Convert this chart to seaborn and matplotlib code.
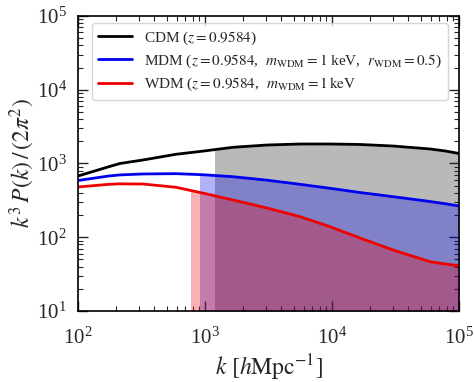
import matplotlib
matplotlib.use("Agg")
import matplotlib.pyplot as plt
from matplotlib.patches import Rectangle
import seaborn as sns
import numpy as np
import pandas as pd

# k in h/Mpc, values of k^3 P(k) / (2 pi^2)
k = [100, 175, 214, 325, 590, 980, 1660, 3080, 5600, 9640, 16600, 30200, 59200, 77600, 100000]
cdm = [677, 905, 1000, 1116, 1333, 1477, 1659, 1781, 1838, 1838, 1811, 1726, 1573, 1480, 1367]
mdm = [588, 677, 700, 721, 728, 703, 662, 594, 522, 461, 404, 355, 305, 285, 265]
wdm = [480, 522, 530, 527, 476, 394, 320, 249, 190, 139, 97.7, 67.2, 46.6, 43.4, 41.1]

# lower k limit of each shaded region
k_cut_cdm = 1190
k_cut_mdm = 920
k_cut_wdm = 770

labels = [
    r"CDM ($z=0.9584$)",
    r"MDM ($z=0.9584$,  $m_{\rm WDM}=1$ keV,  $r_{\rm WDM}=0.5$)",
    r"WDM ($z=0.9584$,  $m_{\rm WDM}=1\,{\rm keV}$",
]
colors = ["black", "#0000ee", "#ee0000"]

sns.set_theme(style="ticks")
plt.rcParams["font.family"] = ["Liberation Serif", "DejaVu Serif"]
plt.rcParams["mathtext.fontset"] = "stix"

fig, ax = plt.subplots(figsize=(4.74, 3.82), dpi=100)
fig.subplots_adjust(left=0.1646, right=0.9684, bottom=0.1859, top=0.9581)

ax.set_xscale("log")
ax.set_yscale("log")
ax.set_xlim(1e2, 1e5)
ax.set_ylim(1e1, 1e5)

# shaded areas under each curve, clipped to k >= k_cut
series = [(cdm, k_cut_cdm), (mdm, k_cut_mdm), (wdm, k_cut_wdm)]
for (vals, kcut), col in zip(series, colors):
    fill_col = "k" if col == "black" else col
    poly = ax.fill_between(k, 1e1, vals, color=fill_col, alpha=0.3, linewidth=0)
    clip = Rectangle((kcut, 1e1), 1e5 - kcut, 1e5 - 1e1, transform=ax.transData)
    poly.set_clip_path(clip)

df = pd.DataFrame({"k": k, "cdm": cdm, "mdm": mdm, "wdm": wdm})
for col_name, lab, col in zip(["cdm", "mdm", "wdm"], labels, colors):
    sns.lineplot(data=df, x="k", y=col_name, ax=ax, color=col, linewidth=2.0, label=lab)

ax.set_xlabel(r"$k\ [h{\rm Mpc}^{-1}]$", fontsize=17, labelpad=3)
ax.set_ylabel(r"$k^3\,P(k)\,/\,(2\pi^2)$", fontsize=17, labelpad=0)

ax.tick_params(which="both", direction="in", top=True, right=True, labelsize=15)
ax.tick_params(axis="x", pad=12)
ax.tick_params(axis="y", pad=8)
ax.tick_params(which="major", length=7, width=1)
ax.tick_params(which="minor", length=3.5, width=0.8)
for sp in ax.spines.values():
    sp.set_linewidth(1.2)
    sp.set_color("black")

ax.legend(loc="upper left", bbox_to_anchor=(0.037, 0.976), borderaxespad=0,
          fontsize=11, frameon=True, handlelength=2.2, labelspacing=0.4)

fig.savefig("out.png", dpi=100)
